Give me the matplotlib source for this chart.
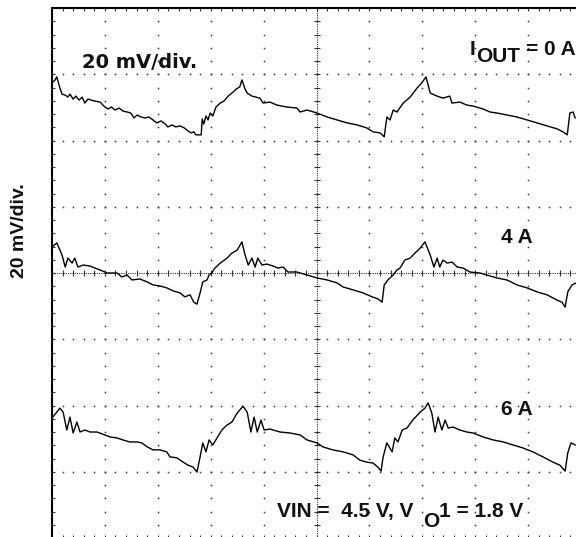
import matplotlib
matplotlib.use("Agg")
import matplotlib.pyplot as plt
import numpy as np

# ---------------- data (time in divisions, voltage in mV, 20 mV/div) ----------------
t_0A = [0.00,0.06,0.09,0.15,0.19,0.25,0.30,0.34,0.40,0.45,0.51,0.57,0.62,0.68,0.74,0.81,0.91,0.98,1.06,1.12,
        1.19,1.27,1.34,1.42,1.49,1.55,1.61,1.68,1.76,1.83,1.91,1.98,2.06,2.14,2.19,2.27,2.34,2.42,2.50,2.57,
        2.63,2.68,2.72,2.82,2.84,2.87,2.91,2.95,2.99,3.04,3.10,3.18,3.25,3.33,3.40,3.48,3.55,3.59,3.65,3.69,
        3.78,3.93,3.99,4.12,4.25,4.44,4.63,4.69,4.82,5.01,5.20,5.39,5.58,5.77,5.95,6.07,6.20,6.28,6.33,6.39,
        6.45,6.52,6.64,6.77,6.90,6.99,7.07,7.15,7.28,7.39,7.52,7.56,7.71,7.84,7.96,8.15,8.28,8.41,8.60,8.79,
        8.98,9.17,9.36,9.55,9.66,9.74,9.79,9.85,9.89]
v_0A = [57.4,58.3,59.2,55.8,54.0,53.7,53.1,54.0,52.5,53.4,52.2,53.1,51.3,52.5,52.2,51.9,51.6,50.4,49.5,50.1,
        49.2,49.8,48.9,48.6,48.3,46.8,47.7,47.1,46.8,47.1,46.2,45.3,45.9,45.0,44.1,44.7,44.1,44.4,43.8,42.9,
        42.3,42.6,41.7,41.7,46.5,45.0,47.4,46.2,48.3,47.4,50.1,51.3,51.9,53.4,54.3,55.5,56.2,58.3,55.5,54.3,
        53.4,52.8,51.3,51.6,50.7,50.1,49.8,48.6,49.2,48.3,47.1,46.2,45.3,44.7,43.8,42.6,42.3,41.1,47.1,46.2,
        49.2,48.6,51.3,53.1,55.8,57.4,59.2,54.3,53.4,52.8,53.4,51.3,51.6,50.7,50.4,49.5,48.6,48.3,47.7,47.1,
        46.2,45.3,44.4,43.5,42.6,41.7,48.3,48.6,46.8]

t_4A = [0.00,0.09,0.19,0.25,0.30,0.38,0.43,0.49,0.59,0.72,0.81,0.91,1.04,1.23,1.32,1.42,1.51,1.66,1.80,1.91,
        2.04,2.17,2.29,2.42,2.51,2.61,2.68,2.74,2.80,2.85,2.93,2.97,3.02,3.08,3.18,3.31,3.40,3.50,3.59,3.65,
        3.71,3.78,3.84,3.89,3.97,4.06,4.18,4.27,4.37,4.46,4.63,4.82,5.01,5.20,5.39,5.50,5.69,5.88,6.05,6.16,
        6.24,6.28,6.35,6.45,6.52,6.58,6.67,6.77,6.86,6.96,7.05,7.15,7.22,7.28,7.33,7.39,7.47,7.56,7.66,7.77,
        7.90,8.09,8.22,8.41,8.60,8.79,8.98,9.17,9.36,9.55,9.64,9.70,9.75,9.83,9.91]
v_4A = [7.8,9.1,5.4,1.8,4.5,3.0,4.5,1.8,2.4,2.1,1.5,0.9,0.0,0.0,-1.2,-0.6,-2.1,-1.8,-2.7,-3.6,
        -3.9,-4.5,-5.4,-6.0,-7.2,-6.6,-8.8,-9.4,-6.0,-2.7,-2.1,-0.6,0.0,1.5,3.0,4.5,6.0,6.9,9.4,5.4,
        2.4,4.5,1.8,4.5,2.4,2.7,2.1,1.5,1.8,0.3,0.3,-0.6,-1.5,-2.1,-3.0,-4.2,-5.1,-6.0,-7.2,-7.8,
        -8.8,-3.6,-2.1,-0.6,0.9,1.5,3.9,4.5,6.0,7.5,9.4,5.4,1.8,4.5,1.8,3.9,3.0,3.3,1.8,1.5,
        0.3,0.0,-0.6,-1.5,-2.1,-3.6,-4.5,-5.7,-6.6,-8.2,-8.8,-10.3,-5.7,-3.6,-3.0]

t_6A = [0.00,0.15,0.21,0.28,0.34,0.40,0.47,0.53,0.62,0.72,0.85,1.00,1.10,1.23,1.34,1.47,1.61,1.70,1.80,1.91,
        2.04,2.17,2.23,2.36,2.48,2.57,2.67,2.74,2.80,2.85,2.91,2.97,3.04,3.12,3.21,3.31,3.40,3.50,3.61,3.69,
        3.76,3.82,3.88,3.95,4.01,4.12,4.31,4.50,4.69,4.82,5.01,5.12,5.31,5.50,5.69,5.82,5.95,6.07,6.16,6.22,
        6.26,6.33,6.43,6.48,6.54,6.62,6.71,6.82,6.96,7.05,7.11,7.18,7.24,7.30,7.37,7.43,7.49,7.58,7.71,7.84,
        7.96,8.15,8.34,8.53,8.71,8.90,9.09,9.28,9.47,9.60,9.70,9.75,9.81,9.89]
v_6A = [-43.8,-40.8,-42.0,-47.4,-43.5,-48.3,-45.0,-48.0,-47.4,-48.0,-48.0,-48.9,-49.5,-49.8,-50.4,-51.0,-51.0,-51.3,-52.5,-53.4,
        -53.4,-54.0,-55.5,-55.8,-57.1,-58.0,-58.6,-60.1,-55.5,-51.3,-54.0,-50.4,-51.9,-49.8,-47.4,-45.9,-45.0,-42.3,-40.2,-42.0,
        -48.0,-43.5,-48.0,-44.4,-47.4,-47.1,-48.0,-48.3,-48.9,-50.4,-51.3,-52.5,-53.4,-54.0,-54.9,-56.5,-57.1,-57.4,-58.6,-59.8,
        -55.5,-51.3,-54.0,-49.8,-51.0,-47.4,-46.8,-44.4,-42.0,-40.8,-39.2,-42.3,-48.0,-43.5,-47.4,-44.4,-46.8,-46.5,-47.4,-48.0,
        -48.3,-49.5,-50.4,-51.0,-51.9,-52.8,-54.0,-55.5,-57.1,-58.0,-59.8,-54.3,-51.3,-51.9]

label_0A = ["I", "OUT", "= 0 A"]
label_4A = "4 A"
label_6A = "6 A"
scale_label = "20 mV/div."
cond_label = ["VIN =  4.5 V, V", "O", "1 = 1.8 V"]

# ---------------- figure ----------------
W, H = 576, 537
fig = plt.figure(figsize=(W / 100, H / 100), dpi=100)
ax = fig.add_axes([52 / W, (H - 538) / H, 529 / W, 530 / H])
ax.set_xlim(0, 10)
ax.set_ylim(-80, 80)
ax.set_xticks([])
ax.set_yticks([])
for s in ("right", "bottom"):
    ax.spines[s].set_visible(False)
for s in ("top", "left"):
    ax.spines[s].set_linewidth(1.5)
    ax.spines[s].set_color("black")

gcol = "#333333"
minor_x = np.arange(0, 10.001, 0.2)
minor_y = np.arange(-80, 80.001, 4)

# graticule dots
for gx in [1, 2, 3, 4, 6, 7, 8, 9]:
    ax.plot(np.full_like(minor_y, gx), minor_y, ls="none", marker="s", ms=1.1, mew=0, color=gcol)
for gy in [-60, -40, -20, 20, 40, 60]:
    ax.plot(minor_x, np.full_like(minor_x, gy), ls="none", marker="s", ms=1.1, mew=0, color=gcol)

# centre lines with ticks
ax.axvline(5, ls=(0, (1, 1)), lw=0.8, color=gcol)
ax.axhline(0, ls=(0, (1, 1)), lw=0.8, color=gcol)
ax.plot(np.full_like(minor_y, 5), minor_y, ls="none", marker="_", ms=4.5, mew=0.8, color=gcol)
ax.plot(minor_x, np.zeros_like(minor_x), ls="none", marker="|", ms=4.5, mew=0.8, color=gcol)

# edge ticks
ax.plot(np.zeros_like(minor_y), minor_y, ls="none", marker="_", ms=5, mew=0.8, color=gcol)
ax.plot(np.full_like(minor_y, 10), minor_y, ls="none", marker="_", ms=5, mew=0.8, color=gcol)
ax.plot(minor_x, np.full_like(minor_x, 80), ls="none", marker="|", ms=5, mew=0.8, color=gcol)
ax.plot(minor_x, np.full_like(minor_x, -80), ls="none", marker="|", ms=5, mew=0.8, color=gcol)

# traces
for t, v in ((t_0A, v_0A), (t_4A, v_4A), (t_6A, v_6A)):
    ax.plot(t, v, color="black", lw=1.0, solid_joinstyle="round")

# ---------------- text ----------------
fam = ["Liberation Sans", "DejaVu Sans"]
def ptext(x, y, s, size=15, family=fam, **kw):
    fig.text(x / W, 1 - y / H, s, fontsize=size, fontweight="bold", family=family,
             ha="left", va="baseline", color="#111111", **kw)

ptext(82, 68, scale_label, size=14, family=["DejaVu Sans"])
ptext(469.5, 55, label_0A[0])
ptext(476, 62, label_0A[1])
ptext(526, 55, label_0A[2])
ptext(501, 243, label_4A)
ptext(501, 415, label_6A)
ptext(277, 517, cond_label[0])
ptext(423, 527, cond_label[1])
ptext(439, 517, cond_label[2])

fig.text(20 / W, 1 - 231 / H, scale_label, fontsize=14, fontweight="bold", family=fam,
         rotation=90, ha="center", va="center", color="#111111")

fig.savefig("out.png", dpi=100)
